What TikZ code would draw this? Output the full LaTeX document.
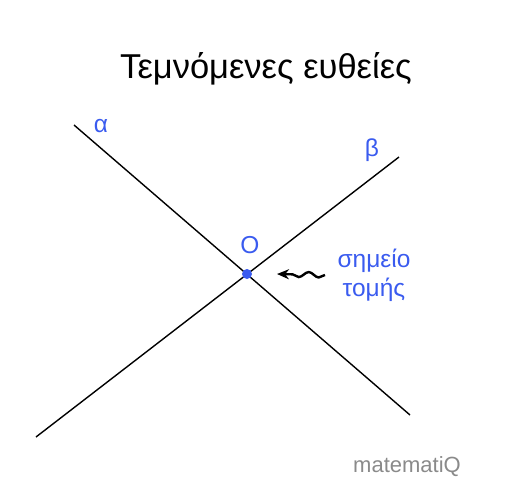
\documentclass[tikz,border=0pt]{standalone}
\usepackage{fontspec}
\setmainfont{Liberation Sans}
\usetikzlibrary{decorations.pathmorphing,arrows.meta}
\definecolor{lblue}{HTML}{3A5BEF}
\definecolor{wgray}{HTML}{8A8A8A}
\begin{document}
\begin{tikzpicture}[x=1pt,y=-1pt,
  lineb/.style={line width=1.4pt,black},
  lbl/.style={text=lblue,font=\fontsize{24.5}{29}\selectfont,inner sep=0pt}]
\useasboundingbox (0,0) rectangle (523,501);
\node[font=\fontsize{34.5}{40}\selectfont,inner sep=0pt] (title) at (266,69) {Τεμνόμενες ευθείες};
\coordinate (a1) at (74,125);
\coordinate (a2) at (410,415);
\coordinate (b1) at (36,437);
\coordinate (b2) at (399,157);
\draw[lineb] (a1) -- (a2);
\draw[lineb] (b1) -- (b2);
\coordinate (O) at (247,274);
\fill[lblue] (O) circle (5);
\node[lbl] (alpha) at (101,126) {α};
\node[lbl] (beta) at (372,150) {β};
\node[lbl] (Olab) at (250,245) {O};
\node[lbl,align=center] (pt) at (374,275) {σημείο\\τομής};
\coordinate (w1) at (325,275);
\coordinate (w2) at (277,274);
\draw[line width=2.4pt,-{Stealth[length=12pt,width=10pt]},decorate,decoration={snake,amplitude=2.6pt,segment length=20pt,pre length=0pt,post length=10pt}] (w1) -- (w2);
\node[text=wgray,font=\fontsize{22}{26}\selectfont,inner sep=0pt] (mq) at (407,467) {matematiQ};
\end{tikzpicture}
\end{document}
